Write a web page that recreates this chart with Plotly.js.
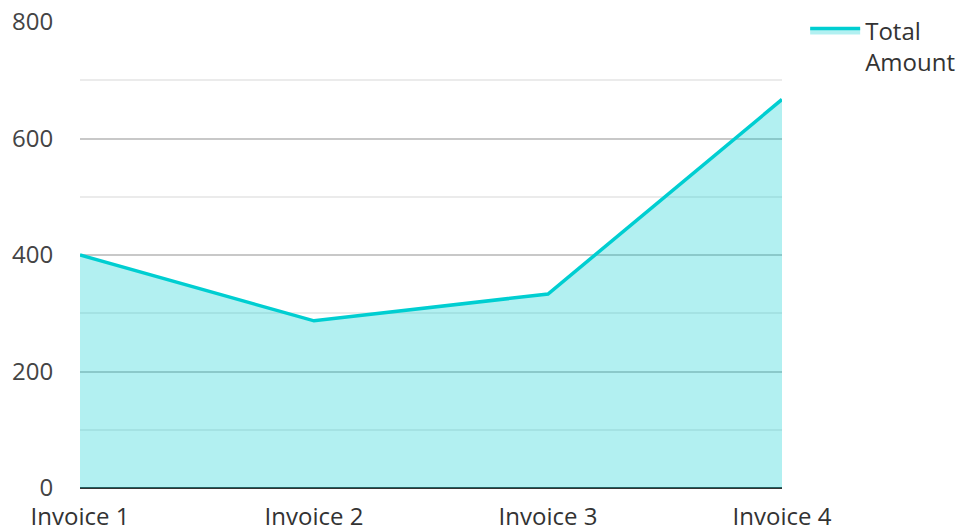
<!DOCTYPE html>
<html>
<head>
<meta charset="utf-8">
<script src="https://cdn.plot.ly/plotly-3.0.1.min.js"></script>
<style>html,body{margin:0;padding:0;background:#fff;}#chart{width:964px;height:529px;}</style>
</head>
<body>
<div id="chart"></div>
<script>
const categories = ["Invoice 1", "Invoice 2", "Invoice 3", "Invoice 4"];
const totalAmount = [400, 287, 333, 667];
const seriesName = "Total<br>Amount";

const trace = {
  x: categories,
  y: totalAmount,
  type: 'scatter',
  mode: 'lines',
  name: seriesName,
  fill: 'tozeroy',
  fillcolor: 'rgba(0,206,209,0.3)',
  line: {color: 'rgb(0,206,209)', width: 3.5},
  hoverinfo: 'skip'
};

const layout = {
  width: 964, height: 529,
  margin: {l: 80, r: 182, t: 22, b: 41, pad: 0, autoexpand: false},
  paper_bgcolor: '#fff', plot_bgcolor: '#fff',
  font: {family: '"Open Sans", "Noto Sans", sans-serif', size: 24, color: '#444'},
  showlegend: true,
  legend: {x: 1.033, xanchor: 'left', y: 1.029, yanchor: 'top', itemwidth: 50, valign: 'top',
           font: {size: 24, color: '#333'}, bgcolor: 'rgba(0,0,0,0)'},
  xaxis: {
    type: 'category', range: [0, 3], showgrid: false, zeroline: false,
    showline: false, ticks: 'outside', ticklen: 7, tickcolor: 'rgba(0,0,0,0)',
    tickfont: {size: 24, color: '#333'}, automargin: false
  },
  yaxis: {
    range: [0, 800], dtick: 200, tick0: 0, showgrid: true, gridcolor: '#c8c8c8', gridwidth: 2,
    minor: {dtick: 100, showgrid: true, gridcolor: '#ebebeb', gridwidth: 2},
    zeroline: true, zerolinecolor: '#333', zerolinewidth: 2,
    ticks: 'outside', ticklen: 21, tickcolor: 'rgba(0,0,0,0)',
    tickfont: {size: 24, color: '#444'}, automargin: false
  }
};

Plotly.newPlot('chart', [trace], layout, {displayModeBar: false, staticPlot: true});
</script>
</body>
</html>
